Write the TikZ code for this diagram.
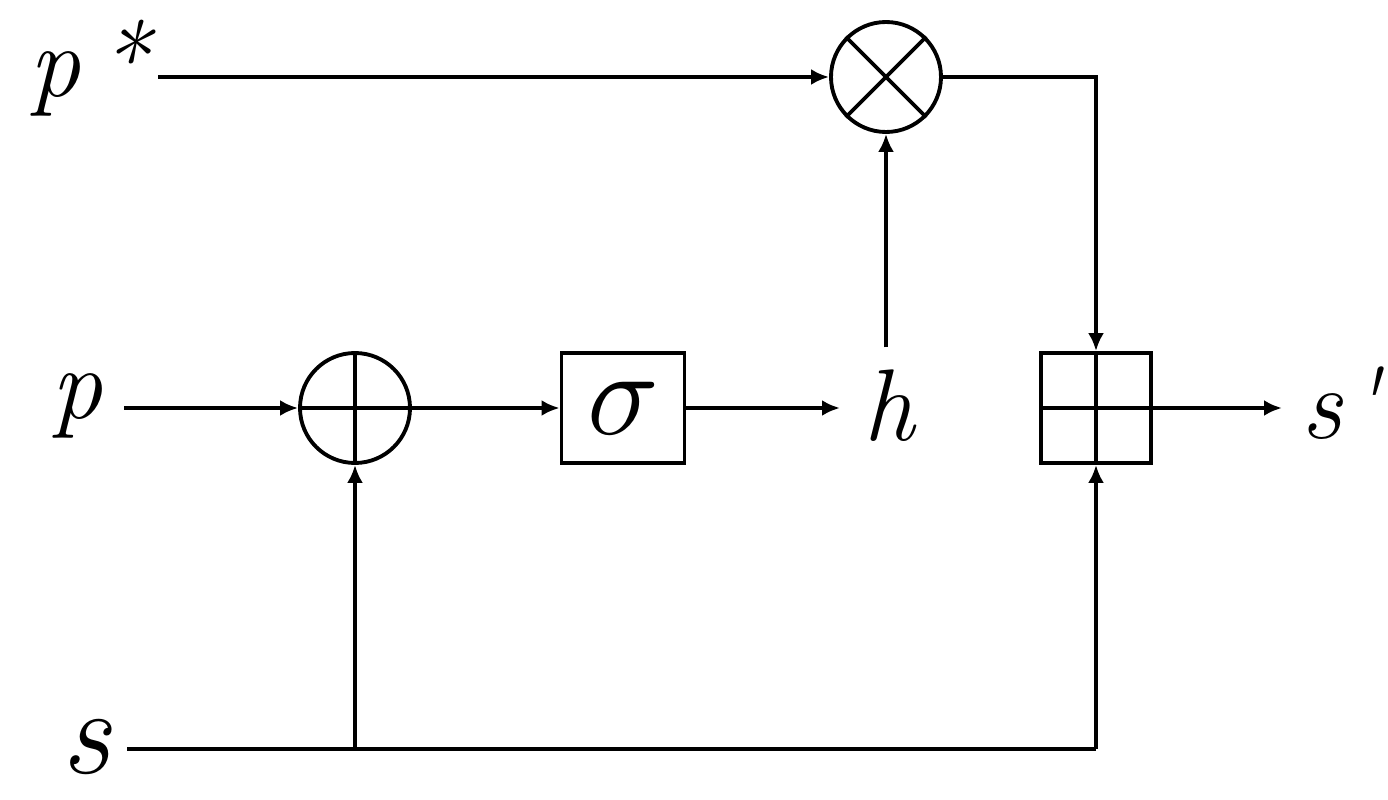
\documentclass[tikz,border=0pt]{standalone}
\usepackage{fix-cm}
\usetikzlibrary{arrows.meta}
\newcommand{\bdlabel}[4] {\node at (#1) (#2) [anchor=base west, inner sep=0pt, font=\fontsize{#3}{#3}\selectfont\itshape] {#4};}
\newcommand{\bdadder}[2] {\node at (#1) (#2) [circle, draw, minimum size=2.2cm, inner sep=0pt] {}; \draw (#2.north) -- (#2.south); \draw (#2.west) -- (#2.east);}
\newcommand{\bdmultiplier}[2] {\node at (#1) (#2) [circle, draw, minimum size=2.2cm, inner sep=0pt] {}; \draw (#2.north west) -- (#2.south east); \draw (#2.north east) -- (#2.south west);}
\newcommand{\bdcombiner}[2] {\node at (#1) (#2) [rectangle, draw, minimum size=2.2cm, inner sep=0pt] {}; \draw (#2.north) -- (#2.south); \draw (#2.west) -- (#2.east);}
\newcommand{\bdblock}[3] {\node at (#1) (#2) [rectangle, draw, minimum width=2.46cm, minimum height=2.2cm, inner sep=0pt, font=\fontsize{69}{69}\selectfont] {#3};}
\newcommand{\bdarrow}[3][] {\draw [#1, -{Latex[length=0.36cm,width=0.32cm]}] (#2) -- (#3);}

\begin{document}
\begin{tikzpicture}[line width=2.2pt]
\useasboundingbox (0,0) rectangle (27.76,15.98);
\bdmultiplier {17.72,14.44} {mul};
\bdadder {7.10,7.82} {add};
\bdblock {12.46,7.82} {sig} {$\sigma$};
\bdcombiner {21.92,7.82} {comb};

\bdlabel {0.56,14.04} {pstar} {58} {p\,*};
\bdlabel {1.00,7.60} {p} {58} {p};
\bdlabel {17.24,7.18} {h} {58} {h};
\bdlabel {26.00,7.22} {sp} {58} {s\kern0.06em\textquotesingle};
\bdlabel {1.20,0.52} {s} {70} {s};

\coordinate (pstar0) at (3.16,14.44);
\coordinate (p0) at (2.48,7.82);
\coordinate (s0) at (2.54,1.00);

\bdarrow {pstar0} {mul.west};
\bdarrow {p0} {add.west};
\bdarrow {add.east} {sig.west};
\bdarrow[shorten >=0.44cm] {sig.east} {sig.east -| h.west};
\bdarrow[shorten <=0.4cm] {h.north -| mul} {mul.south};
\draw [-{Latex[length=0.36cm,width=0.32cm]}] (mul.east) -| (comb.north);
\bdarrow[shorten >=0.36cm] {comb.east} {comb.east -| sp.west};

\draw (s0) -- (s0 -| comb);
\bdarrow {s0 -| add} {add.south};
\bdarrow {s0 -| comb} {comb.south};
\end{tikzpicture}
\end{document}
